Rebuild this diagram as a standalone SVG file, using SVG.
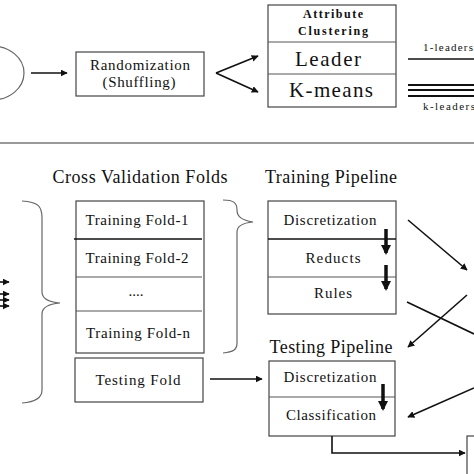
<svg xmlns="http://www.w3.org/2000/svg" width="474" height="474" viewBox="0 0 474 474">
<style>
.box{fill:#fff;stroke:#444;stroke-width:1.2}
.div{stroke:#555;stroke-width:1}
.divk{stroke:#111;stroke-width:1.6}
.t{font-family:"Liberation Serif","Times New Roman",Times,serif;fill:#111;text-anchor:middle}
.s14{font-size:15px}
.ln{stroke:#111;stroke-width:1.6;fill:none}
.gr{stroke:#666;stroke-width:1.2;fill:none}
.bold{stroke:#111;stroke-width:3.5}
</style>
<defs>
<marker id="ah" viewBox="0 0 10 10" refX="9" refY="5" markerWidth="7" markerHeight="7" markerUnits="userSpaceOnUse" orient="auto"><path d="M0,0 L10,5 L0,10 z" fill="#111"/></marker>
<marker id="ahb" viewBox="0 0 10 10" refX="8" refY="5" markerWidth="10" markerHeight="10" markerUnits="userSpaceOnUse" orient="auto"><path d="M0,0 L10,5 L0,10 z" fill="#111"/></marker>
</defs>
<rect width="474" height="474" fill="#fff"/>

<g id="source"><ellipse cx="-8" cy="73" rx="32" ry="27" class="gr"/></g>

<g id="randomization">
<rect class="box" x="76" y="52" width="128" height="44"/>
<text class="t s14" x="140" y="70" textLength="100" lengthAdjust="spacing">Randomization</text>
<text class="t s14" x="139" y="87" textLength="73" lengthAdjust="spacing">(Shuffling)</text>
</g>

<g id="attribute-clustering">
<rect class="box" x="268" y="5" width="128" height="102"/>
<line class="div" x1="268" y1="42" x2="396" y2="42"/>
<line class="div" x1="268" y1="74" x2="396" y2="74"/>
<text class="t" x="333" y="18" font-size="12" font-weight="bold" textLength="60" lengthAdjust="spacing">Attribute</text>
<text class="t" x="333" y="35" font-size="12" font-weight="bold" textLength="70" lengthAdjust="spacing">Clustering</text>
<text class="t" x="328" y="66" font-size="21" textLength="66" lengthAdjust="spacing">Leader</text>
<text class="t" x="331" y="97" font-size="21" textLength="84" lengthAdjust="spacing">K-means</text>
</g>

<g id="leaders-labels">
<text class="t" x="448" y="51" font-size="11" textLength="50" lengthAdjust="spacing">1-leaders</text>
<text class="t" x="449" y="110" font-size="11" textLength="52" lengthAdjust="spacing">k-leaders</text>
</g>

<line x1="0" y1="143" x2="474" y2="143" stroke="#999" stroke-width="2"/>

<text class="t" x="140" y="183" font-size="18" textLength="175" lengthAdjust="spacing">Cross Validation Folds</text>
<text class="t" x="331" y="183" font-size="18" textLength="132" lengthAdjust="spacing">Training Pipeline</text>
<text class="t" x="331" y="353" font-size="18" textLength="123" lengthAdjust="spacing">Testing Pipeline</text>

<g id="cv-folds">
<rect class="box" x="76" y="201" width="128" height="152"/>
<line class="divk" x1="74" y1="239" x2="202" y2="239"/>
<line class="div" x1="76" y1="277" x2="202" y2="277"/>
<line class="div" x1="76" y1="311" x2="202" y2="311"/>
<text class="t s14" x="137" y="225" textLength="103" lengthAdjust="spacing">Training Fold-1</text>
<text class="t s14" x="137" y="263" textLength="103" lengthAdjust="spacing">Training Fold-2</text>
<text class="t s14" x="136" y="296">....</text>
<text class="t s14" x="138" y="338" textLength="104" lengthAdjust="spacing">Training Fold-n</text>
</g>

<g id="testing-fold">
<rect class="box" x="75" y="358" width="128" height="44"/>
<text class="t s14" x="138" y="385" textLength="85" lengthAdjust="spacing">Testing Fold</text>
</g>

<g id="training-pipeline">
<rect class="box" x="268" y="201" width="128" height="113"/>
<line class="divk" x1="268" y1="239" x2="396" y2="239"/>
<line class="div" x1="268" y1="277" x2="396" y2="277"/>
<text class="t s14" x="330" y="225" textLength="93" lengthAdjust="spacing">Discretization</text>
<text class="t s14" x="333" y="263" textLength="55" lengthAdjust="spacing">Reducts</text>
<text class="t s14" x="333" y="298" textLength="38" lengthAdjust="spacing">Rules</text>
</g>

<g id="testing-pipeline">
<rect class="box" x="269" y="361" width="126" height="75"/>
<line class="div" x1="269" y1="397" x2="395" y2="397"/>
<text class="t s14" x="330" y="382" textLength="93" lengthAdjust="spacing">Discretization</text>
<text class="t s14" x="331" y="420" textLength="90" lengthAdjust="spacing">Classification</text>
</g>

<g id="result-box"><rect class="box" x="467" y="436" width="20" height="50"/></g>

<g id="braces" class="gr">
<path d="M22,201 C38,202 42,206 42,218 L42,292 C42,298 48,302 60,303 C48,304 42,308 42,314 L42,390 C42,398 36,402 22,403"/>
<path d="M223,200 C234,200 237,203 237,210 C237,217 242,220 253,222 C242,223 237,226 237,232 L237,343 C237,350 233,352 223,353"/>
</g>

<g id="connectors">
<line class="ln" x1="31" y1="73" x2="67" y2="73" marker-end="url(#ah)"/>
<line class="ln" x1="216" y1="73" x2="258" y2="56" marker-end="url(#ah)"/>
<line class="ln" x1="216" y1="73" x2="258" y2="92" marker-end="url(#ah)"/>
<line x1="408" y1="59" x2="474" y2="59" stroke="#111" stroke-width="1.6"/>
<line x1="408" y1="85" x2="474" y2="85" stroke="#111" stroke-width="2"/>
<line x1="408" y1="90" x2="474" y2="90" stroke="#111" stroke-width="2"/>
<line x1="408" y1="96" x2="474" y2="96" stroke="#111" stroke-width="2"/>
<line class="ln" x1="0" y1="282" x2="9" y2="282" marker-end="url(#ah)"/>
<line class="ln" x1="0" y1="294" x2="9" y2="294" marker-end="url(#ah)"/>
<line class="ln" x1="0" y1="300" x2="9" y2="300" marker-end="url(#ah)"/>
<line class="ln" x1="0" y1="306" x2="9" y2="306" marker-end="url(#ah)"/>
<line class="ln" x1="210" y1="379" x2="262" y2="379" marker-end="url(#ah)"/>
<line class="bold" x1="386" y1="229" x2="386" y2="253" marker-end="url(#ahb)"/>
<line class="bold" x1="386" y1="265" x2="386" y2="289" marker-end="url(#ahb)"/>
<line class="bold" x1="383" y1="384" x2="383" y2="409" marker-end="url(#ahb)"/>
<line class="ln" x1="408" y1="220" x2="467" y2="270" marker-end="url(#ah)"/>
<line class="ln" x1="407" y1="302" x2="474" y2="334"/>
<line class="ln" x1="467" y1="295" x2="408" y2="347" marker-end="url(#ah)"/>
<line class="ln" x1="474" y1="388" x2="408" y2="417" marker-end="url(#ah)"/>
<polyline class="ln" points="332,436 332,453 465,453" marker-end="url(#ah)"/>
</g>
</svg>
